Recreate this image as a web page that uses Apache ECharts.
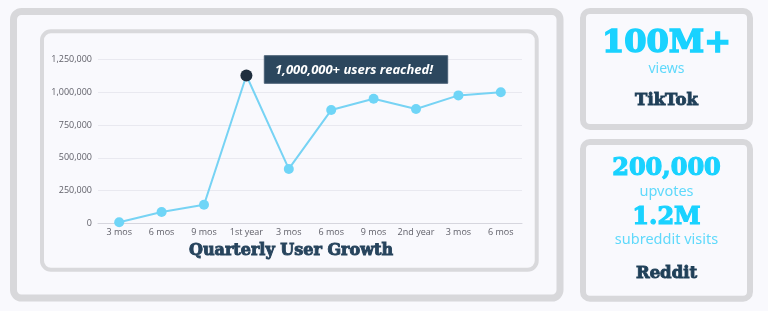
<!DOCTYPE html>
<html>
<head>
<meta charset="utf-8">
<script src="https://cdn.jsdelivr.net/npm/echarts@6/dist/echarts.min.js"></script>
<style>
html,body{margin:0;padding:0;background:#f9f9fd;}
#c{width:768px;height:311px;}
</style>
</head>
<body>
<div id="c"></div>
<script>
const categories = ['3 mos','6 mos','9 mos','1st year','3 mos','6 mos','9 mos','2nd year','3 mos','6 mos'];
const users = [8000, 86000, 141000, 1128000, 415000, 864000, 951000, 872000, 976000, 1000000];
const highlightIndex = 3;
const yTicks = [0, 250000, 500000, 750000, 1000000, 1250000];
const chartTitle = 'Quarterly User Growth';
const annotation = '1,000,000+ users reached!';
const tiktokStats = ['100M+', 'views', 'TikTok'];
const redditStats = ['200,000', 'upvotes', '1.2M', 'subreddit visits', 'Reddit'];

const slab = '"DejaVu Serif", serif';
const cyan = '#19d2ff';
const navy = '#1f3f58';
const light = '#5fd9fb';

const chart = echarts.init(document.getElementById('c'), null, {renderer:'canvas'});

const seriesData = users.map((v,i)=> i===highlightIndex
  ? {value:v, symbolSize:12, itemStyle:{color:'#1f2e3e'}}
  : v);

function txt(x,y,text,font,color,strokeW){
  const st = {text:text, font:font, fill:color, align:'center', verticalAlign:'middle'};
  if (strokeW) { st.stroke = color; st.lineWidth = strokeW; }
  return {type:'text', x:x, y:y, z:11, style:st};
}

chart.setOption({
  backgroundColor:'#f9f9fd',
  animation:false,
  grid:{left:98, right:246, top:59.5, bottom:87.7},
  xAxis:{
    type:'category', data:categories, boundaryGap:true,
    axisLine:{lineStyle:{color:'#d6d6de', width:1}},
    axisTick:{show:false},
    axisLabel:{color:'#5f5f68', fontSize:9, fontFamily:'"Open Sans"', margin:5, interval:0}
  },
  yAxis:{
    type:'value', min:yTicks[0], max:yTicks[yTicks.length-1], interval:yTicks[1]-yTicks[0],
    axisLine:{show:false}, axisTick:{show:false},
    splitLine:{lineStyle:{color:'#e9e9f0', width:1}},
    axisLabel:{color:'#5f5f68', fontSize:9, fontFamily:'"Open Sans"', margin:6,
      formatter:v=>v.toLocaleString('en-US')}
  },
  series:[{
    type:'line', data:seriesData, symbol:'circle', symbolSize:10,
    itemStyle:{color:'#6fd5f7'},
    lineStyle:{color:'#77d3f4', width:2},
    z:5
  }],
  graphic:[
    {type:'rect', shape:{x:13.5, y:11.5, width:546.5, height:286.5, r:8},
      style:{fill:'#f9f9fd', stroke:'#d8d8db', lineWidth:7}, z:-10},
    {type:'rect', shape:{x:42, y:31.3, width:494.7, height:238.4, r:9},
      style:{fill:'#f9f9fd', stroke:'#d9d9dc', lineWidth:4}, z:-9},
    {type:'rect', shape:{x:583, y:11, width:167, height:116, r:7},
      style:{fill:'#f9f9fd', stroke:'#d8d8db', lineWidth:6}, z:-10},
    {type:'rect', shape:{x:583, y:142, width:167, height:156.7, r:7},
      style:{fill:'#f9f9fd', stroke:'#d8d8db', lineWidth:6}, z:-10},
    {type:'rect', shape:{x:264.3, y:55.7, width:183.4, height:27.6},
      style:{fill:'#2c475e', stroke:'#4a6176', lineWidth:1}, z:10},
    txt(354, 70, annotation, 'italic bold 13px "Open Sans"', '#ffffff'),
    txt(291, 251, chartTitle, 'bold 16px '+slab, '#27445d', 0.9),
    txt(666.5, 44, tiktokStats[0], 'bold 32px '+slab, cyan, 1.5),
    txt(666.5, 69.5, tiktokStats[1], '14px "Noto Sans"', light),
    txt(666.5, 101, tiktokStats[2], 'bold 16.5px '+slab, navy, 0.9),
    txt(666.5, 169, redditStats[0], 'bold 24px '+slab, cyan, 1.2),
    txt(666.5, 191.5, redditStats[1], '14.5px "Noto Sans"', light),
    txt(666.5, 218, redditStats[2], 'bold 24px '+slab, cyan, 1.2),
    txt(666.5, 239.5, redditStats[3], '14.5px "Noto Sans"', light),
    txt(666.5, 274, redditStats[4], 'bold 16.5px '+slab, navy, 0.9)
  ]
});
</script>
</body>
</html>
